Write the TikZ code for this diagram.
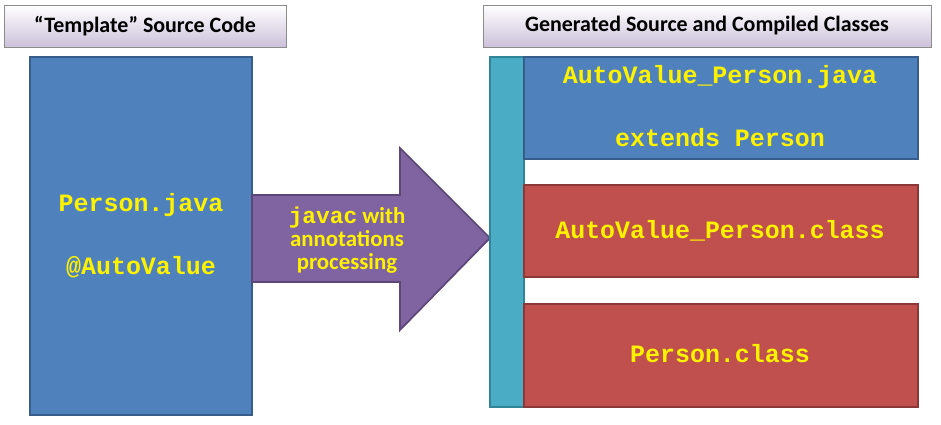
\documentclass[tikz,border=0pt]{standalone}
\usepackage{fontspec}
\setmainfont{Carlito}
\newfontfamily\monof{Liberation Mono}
\begin{document}
\begin{tikzpicture}[x=0.02cm,y=-0.02cm,
  title/.style={draw=black!45,top color=white,bottom color={rgb,255:red,204;green,193;blue,218},font=\bfseries\fontsize{12.5}{14}\selectfont,inner sep=0},
  mono/.style={text=yellow,font=\monof\bfseries\fontsize{14.2}{16}\selectfont},
  sans/.style={text=yellow,font=\bfseries\fontsize{13}{15}\selectfont},
  blue/.style={fill={rgb,255:red,79;green,129;blue,189},draw={rgb,255:red,56;green,93;blue,138},line width=1pt},
  red/.style={fill={rgb,255:red,192;green,80;blue,77},draw={rgb,255:red,140;green,56;blue,54},line width=1pt}]
\useasboundingbox (0,0) rectangle (941,425);
\node[title,minimum width=282*0.02cm,minimum height=42*0.02cm] (t1) at (145,26) {“Template” Source Code};
\node[title,minimum width=448*0.02cm,minimum height=42*0.02cm] (t2) at (707,26) {Generated Source and Compiled Classes};
\draw[blue] (30,57) rectangle (252,415);
\node[mono] (pj) at (141,205) {Person.java};
\node[mono] (av) at (141,267) {@AutoValue};
\draw[fill={rgb,255:red,128;green,100;blue,162},draw={rgb,255:red,92;green,71;blue,118},line width=1pt]
  (252,195) -- (400,195) -- (400,148) -- (490,238) -- (400,330) -- (400,282) -- (252,282) -- cycle;
\node[sans,align=center] (jv) at (347,240) {{\monof javac} with\\[-2pt]annotations\\[-2pt]processing};
\draw[fill={rgb,255:red,75;green,172;blue,198},draw={rgb,255:red,49;green,133;blue,155},line width=1pt] (490,57) rectangle (524,407);
\draw[blue] (524,57) rectangle (918,159);
\node[mono] (ap) at (720,77) {AutoValue\_Person.java};
\node[mono] (ex) at (720,138) {extends Person};
\draw[red] (524,185) rectangle (918,277);
\node[mono] (ac) at (720,231) {AutoValue\_Person.class};
\draw[red] (524,304) rectangle (918,407);
\node[mono] (pc) at (720,354) {Person.class};
\end{tikzpicture}
\end{document}
